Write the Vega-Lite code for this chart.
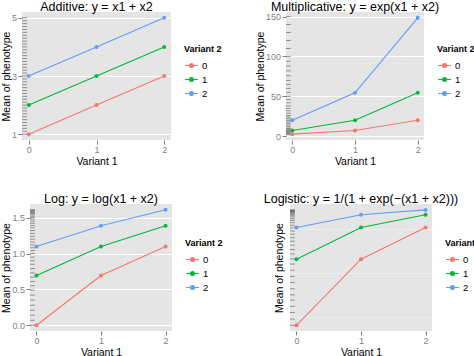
{
"$schema":"https://vega.github.io/schema/vega-lite/v6.json",
"padding":0,
"background":"white",
"columns":3,
"align":"none",
"spacing":{"row":25,"column":0},
"concat":[
{"width":1,"height":1,"view":{"fill":"white","stroke":null},"data":{"values":[]},"mark":{"type":"point","opacity":0,"size":0},"encoding":{}},
{
 "width":149,"height":128,
 "title":{"text":"Additive: y = x1 + x2"},
 "layer":[
  {"data":{"values":[{"r":1},{"r":1.1},{"r":1.2},{"r":1.3},{"r":1.4},{"r":1.5},{"r":1.6},{"r":1.7},{"r":1.8},{"r":1.9},{"r":2},{"r":2.1},{"r":2.2},{"r":2.3},{"r":2.4},{"r":2.5},{"r":2.6},{"r":2.7},{"r":2.8},{"r":2.9},{"r":3},{"r":3.1},{"r":3.2},{"r":3.3},{"r":3.4},{"r":3.5},{"r":3.6},{"r":3.7},{"r":3.8},{"r":3.9},{"r":4},{"r":4.1},{"r":4.2},{"r":4.3},{"r":4.4},{"r":4.5},{"r":4.6},{"r":4.7},{"r":4.8},{"r":4.9},{"r":5}]},
   "mark":{"type":"rule","color":"#555","strokeWidth":0.6},
   "encoding":{"y":{"field":"r","type":"quantitative"},"x":{"datum":-0.1},"x2":{"datum":-0.025}}},
  {"data":{"values":[
  {"v1":0,"v2":"0","mean":1},{"v1":1,"v2":"0","mean":2},{"v1":2,"v2":"0","mean":3},
  {"v1":0,"v2":"1","mean":2},{"v1":1,"v2":"1","mean":3},{"v1":2,"v2":"1","mean":4},
  {"v1":0,"v2":"2","mean":3},{"v1":1,"v2":"2","mean":4},{"v1":2,"v2":"2","mean":5}]},
   "layer":[
  {"mark":{"type":"line","strokeWidth":1.1},
   "encoding":{
    "x":{"field":"v1","type":"quantitative","scale":{"domain":[-0.1,2.1],"nice":false,"zero":false},"axis":{"values":[0,0.5,1,1.5,2],"labelOverlap":false,"labelExpr":"datum.value % 1 === 0 ? datum.label : ''","format":".1~f","title":"Variant 1","orient":"bottom","titlePadding":2,"gridColor":{"condition":{"test":"datum.value % 1 !== 0","value":"#F2F2F2"},"value":"white"},"gridWidth":{"condition":{"test":"datum.value % 1 !== 0","value":0.6},"value":1},"tickOpacity":{"condition":{"test":"datum.value % 1 !== 0","value":0},"value":1}}},
    "y":{"field":"mean","type":"quantitative","scale":{"domain":[0.8,5.2],"nice":false,"zero":false},"axis":{"values":[1,1.5,2,2.5,3,3.5,4,4.5,5],"labelOverlap":false,"labelExpr":"datum.value % 1 === 0 ? datum.label : ''","format":".1~f","title":"Mean of phenotype","orient":"left","gridColor":{"condition":{"test":"datum.value % 1 !== 0","value":"#F2F2F2"},"value":"white"},"gridWidth":{"condition":{"test":"datum.value % 1 !== 0","value":0.6},"value":1},"tickOpacity":{"condition":{"test":"datum.value % 1 !== 0","value":0},"value":1}}},
    "color":{"field":"v2","type":"nominal","scale":{"domain":["0","1","2"],"range":["#F8766D","#00BA38","#619CFF"]},"legend":{"title":"Variant 2","orient":"none","legendX":129,"legendY":0,"padding":33}}}},
  {"mark":{"type":"point","filled":true,"size":16,"opacity":1},
   "encoding":{
    "x":{"field":"v1","type":"quantitative"},
    "y":{"field":"mean","type":"quantitative"},
    "color":{"field":"v2","type":"nominal","legend":{"title":"Variant 2","orient":"none","legendX":129,"legendY":0,"padding":33}}}}
   ]}
 ]
},
{
 "width":138,"height":128,
 "title":{"text":"Multiplicative: y = exp(x1 + x2)"},
 "layer":[
  {"data":{"values":[{"r":2.5},{"r":3},{"r":4},{"r":5},{"r":6},{"r":7},{"r":8},{"r":9},{"r":10},{"r":12},{"r":14},{"r":16},{"r":18},{"r":20},{"r":22},{"r":24},{"r":26},{"r":29},{"r":32},{"r":35},{"r":38},{"r":42},{"r":46},{"r":50},{"r":55},{"r":60},{"r":65},{"r":70},{"r":76},{"r":82},{"r":88},{"r":94},{"r":100},{"r":110},{"r":120},{"r":130},{"r":140},{"r":150}]},
   "mark":{"type":"rule","color":"#555","strokeWidth":0.6},
   "encoding":{"y":{"field":"r","type":"quantitative"},"x":{"datum":-0.1},"x2":{"datum":-0.025}}},
  {"data":{"values":[
  {"v1":0,"v2":"0","mean":2.72},{"v1":1,"v2":"0","mean":7.39},{"v1":2,"v2":"0","mean":20.09},
  {"v1":0,"v2":"1","mean":7.39},{"v1":1,"v2":"1","mean":20.09},{"v1":2,"v2":"1","mean":54.6},
  {"v1":0,"v2":"2","mean":20.09},{"v1":1,"v2":"2","mean":54.6},{"v1":2,"v2":"2","mean":148.4}]},
   "layer":[
  {"mark":{"type":"line","strokeWidth":1.1},
   "encoding":{
    "x":{"field":"v1","type":"quantitative","scale":{"domain":[-0.1,2.1],"nice":false,"zero":false},"axis":{"values":[0,0.5,1,1.5,2],"labelOverlap":false,"labelExpr":"datum.value % 1 === 0 ? datum.label : ''","format":".1~f","title":"Variant 1","orient":"bottom","titlePadding":2,"gridColor":{"condition":{"test":"datum.value % 1 !== 0","value":"#F2F2F2"},"value":"white"},"gridWidth":{"condition":{"test":"datum.value % 1 !== 0","value":0.6},"value":1},"tickOpacity":{"condition":{"test":"datum.value % 1 !== 0","value":0},"value":1}}},
    "y":{"field":"mean","type":"quantitative","scale":{"domain":[-4.6,155.7],"nice":false,"zero":false},"axis":{"values":[0,25,50,75,100,125,150],"labelOverlap":false,"labelExpr":"datum.value % 50 === 0 ? datum.label : ''","format":"d","title":"Mean of phenotype","orient":"left","gridColor":{"condition":{"test":"datum.value % 50 !== 0","value":"#F2F2F2"},"value":"white"},"gridWidth":{"condition":{"test":"datum.value % 50 !== 0","value":0.6},"value":1},"tickOpacity":{"condition":{"test":"datum.value % 50 !== 0","value":0},"value":1}}},
    "color":{"field":"v2","type":"nominal","scale":{"domain":["0","1","2"],"range":["#F8766D","#00BA38","#619CFF"]},"legend":{"title":"Variant 2","orient":"none","legendX":118,"legendY":0,"padding":33}}}},
  {"mark":{"type":"point","filled":true,"size":16,"opacity":1},
   "encoding":{
    "x":{"field":"v1","type":"quantitative"},
    "y":{"field":"mean","type":"quantitative"},
    "color":{"field":"v2","type":"nominal","legend":{"title":"Variant 2","orient":"none","legendX":118,"legendY":0,"padding":33}}}}
   ]}
 ]
},
{"width":1,"height":1,"view":{"fill":"white","stroke":null},"data":{"values":[]},"mark":{"type":"point","opacity":0,"size":0},"encoding":{}},
{
 "width":142,"height":127,
 "title":{"text":"Log: y = log(x1 + x2)"},
 "layer":[
  {"data":{"values":[{"r":0},{"r":0.07},{"r":0.14},{"r":0.21},{"r":0.28},{"r":0.35},{"r":0.42},{"r":0.49},{"r":0.55},{"r":0.61},{"r":0.67},{"r":0.73},{"r":0.79},{"r":0.85},{"r":0.9},{"r":0.95},{"r":1.0},{"r":1.04},{"r":1.08},{"r":1.12},{"r":1.16},{"r":1.2},{"r":1.24},{"r":1.28},{"r":1.32},{"r":1.36},{"r":1.39},{"r":1.42},{"r":1.45},{"r":1.48},{"r":1.5},{"r":1.52},{"r":1.54},{"r":1.56},{"r":1.57},{"r":1.58},{"r":1.59},{"r":1.6},{"r":1.61}]},
   "mark":{"type":"rule","color":"#555","strokeWidth":0.6},
   "encoding":{"y":{"field":"r","type":"quantitative"},"x":{"datum":-0.1},"x2":{"datum":-0.025}}},
  {"data":{"values":[
  {"v1":0,"v2":"0","mean":0},{"v1":1,"v2":"0","mean":0.693},{"v1":2,"v2":"0","mean":1.099},
  {"v1":0,"v2":"1","mean":0.693},{"v1":1,"v2":"1","mean":1.099},{"v1":2,"v2":"1","mean":1.386},
  {"v1":0,"v2":"2","mean":1.099},{"v1":1,"v2":"2","mean":1.386},{"v1":2,"v2":"2","mean":1.609}]},
   "layer":[
  {"mark":{"type":"line","strokeWidth":1.1},
   "encoding":{
    "x":{"field":"v1","type":"quantitative","scale":{"domain":[-0.1,2.1],"nice":false,"zero":false},"axis":{"values":[0,0.5,1,1.5,2],"labelOverlap":false,"labelExpr":"datum.value % 1 === 0 ? datum.label : ''","format":".1~f","title":"Variant 1","orient":"bottom","titlePadding":2,"gridColor":{"condition":{"test":"datum.value % 1 !== 0","value":"#F2F2F2"},"value":"white"},"gridWidth":{"condition":{"test":"datum.value % 1 !== 0","value":0.6},"value":1},"tickOpacity":{"condition":{"test":"datum.value % 1 !== 0","value":0},"value":1}}},
    "y":{"field":"mean","type":"quantitative","scale":{"domain":[-0.08,1.69],"nice":false,"zero":false},"axis":{"values":[0,0.25,0.5,0.75,1,1.25,1.5],"labelOverlap":false,"labelExpr":"indexof([0.25,0.75,1.25], datum.value) < 0 ? datum.label : ''","format":".1f","title":"Mean of phenotype","orient":"left","gridColor":{"condition":{"test":"indexof([0.25,0.75,1.25], datum.value) >= 0","value":"#F2F2F2"},"value":"white"},"gridWidth":{"condition":{"test":"indexof([0.25,0.75,1.25], datum.value) >= 0","value":0.6},"value":1},"tickOpacity":{"condition":{"test":"indexof([0.25,0.75,1.25], datum.value) >= 0","value":0},"value":1}}},
    "color":{"field":"v2","type":"nominal","scale":{"domain":["0","1","2"],"range":["#F8766D","#00BA38","#619CFF"]},"legend":{"title":"Variant 2","orient":"none","legendX":122,"legendY":2,"padding":33}}}},
  {"mark":{"type":"point","filled":true,"size":16,"opacity":1},
   "encoding":{
    "x":{"field":"v1","type":"quantitative"},
    "y":{"field":"mean","type":"quantitative"},
    "color":{"field":"v2","type":"nominal","legend":{"title":"Variant 2","orient":"none","legendX":122,"legendY":2,"padding":33}}}}
   ]}
 ]
},
{
 "width":142,"height":127,
 "title":{"text":"Logistic: y = 1/(1 + exp(−(x1 + x2)))"},
 "layer":[
  {"data":{"values":[{"r":0.731},{"r":0.745},{"r":0.76},{"r":0.774},{"r":0.788},{"r":0.8},{"r":0.814},{"r":0.828},{"r":0.842},{"r":0.856},{"r":0.87},{"r":0.882},{"r":0.893},{"r":0.903},{"r":0.913},{"r":0.922},{"r":0.93},{"r":0.938},{"r":0.945},{"r":0.952},{"r":0.958},{"r":0.964},{"r":0.969},{"r":0.973},{"r":0.977},{"r":0.98},{"r":0.983},{"r":0.985},{"r":0.987},{"r":0.989},{"r":0.99},{"r":0.991},{"r":0.992},{"r":0.993}]},
   "mark":{"type":"rule","color":"#555","strokeWidth":0.6},
   "encoding":{"y":{"field":"r","type":"quantitative"},"x":{"datum":-0.1},"x2":{"datum":-0.025}}},
  {"data":{"values":[
  {"v1":0,"v2":"0","mean":0.731},{"v1":1,"v2":"0","mean":0.881},{"v1":2,"v2":"0","mean":0.953},
  {"v1":0,"v2":"1","mean":0.881},{"v1":1,"v2":"1","mean":0.953},{"v1":2,"v2":"1","mean":0.982},
  {"v1":0,"v2":"2","mean":0.953},{"v1":1,"v2":"2","mean":0.982},{"v1":2,"v2":"2","mean":0.993}]},
   "layer":[
  {"mark":{"type":"line","strokeWidth":1.1},
   "encoding":{
    "x":{"field":"v1","type":"quantitative","scale":{"domain":[-0.1,2.1],"nice":false,"zero":false},"axis":{"values":[0,0.5,1,1.5,2],"labelOverlap":false,"labelExpr":"datum.value % 1 === 0 ? datum.label : ''","format":".1~f","title":"Variant 1","orient":"bottom","titlePadding":2,"gridColor":{"condition":{"test":"datum.value % 1 !== 0","value":"#F2F2F2"},"value":"white"},"gridWidth":{"condition":{"test":"datum.value % 1 !== 0","value":0.6},"value":1},"tickOpacity":{"condition":{"test":"datum.value % 1 !== 0","value":0},"value":1}}},
    "y":{"field":"mean","type":"quantitative","scale":{"domain":[0.718,1.0064],"nice":false,"zero":false},"axis":{"values":[0.75,0.8,0.85,0.9,0.95,1.0],"labelOverlap":false,"labelExpr":"indexof([0.75,0.85,0.95], datum.value) < 0 ? datum.label : ''","format":".1f","title":"Mean of phenotype","orient":"left","gridColor":{"condition":{"test":"indexof([0.75,0.85,0.95], datum.value) >= 0","value":"#F2F2F2"},"value":"white"},"gridWidth":{"condition":{"test":"indexof([0.75,0.85,0.95], datum.value) >= 0","value":0.6},"value":1},"tickOpacity":{"condition":{"test":"indexof([0.75,0.85,0.95], datum.value) >= 0","value":0},"value":1}}},
    "color":{"field":"v2","type":"nominal","scale":{"domain":["0","1","2"],"range":["#F8766D","#00BA38","#619CFF"]},"legend":{"title":"Variant 2","orient":"none","legendX":122,"legendY":2,"padding":33}}}},
  {"mark":{"type":"point","filled":true,"size":16,"opacity":1},
   "encoding":{
    "x":{"field":"v1","type":"quantitative"},
    "y":{"field":"mean","type":"quantitative"},
    "color":{"field":"v2","type":"nominal","legend":{"title":"Variant 2","orient":"none","legendX":122,"legendY":2,"padding":33}}}}
   ]}
 ]
}
],
"resolve":{"scale":{"color":"independent"},"legend":{"color":"independent"}},
"config":{
 "font":"Liberation Sans",
 "view":{"fill":"#E5E5E5","stroke":null},
 "axis":{"domain":false,"labelColor":"#7F7F7F","labelFontSize":9,"tickColor":"#7F7F7F","tickSize":4,"labelPadding":1.5,"titleFontSize":10.5,"titleFontWeight":"normal","titleColor":"black","titlePadding":0,"gridColor":"white","gridWidth":1,"minExtent":0,"labelOverlap":false,"labelFlush":false},
 "axisY":{"minExtent":0},
 "legend":{"titleFontSize":9,"titleFontWeight":"bold","titleColor":"black","labelFontSize":9.5,"labelColor":"black","rowPadding":2,"titlePadding":4,"labelOffset":3,
   "symbolType":"M-1,0L1,0M-0.3,0A0.3,0.3,0,1,0,0.3,0A0.3,0.3,0,1,0,-0.3,0Z","symbolSize":169,
   "symbolStrokeWidth":1.1},
 "title":{"fontSize":12.5,"fontWeight":"normal","anchor":"middle","frame":"group","offset":-1,"color":"black"}
}
}
